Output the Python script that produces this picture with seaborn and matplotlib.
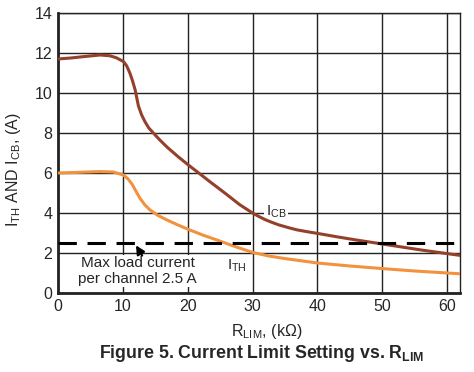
import pandas as pd
import matplotlib
matplotlib.use('Agg')
import matplotlib.pyplot as plt
import seaborn as sns

# values
r_cb = [0, 2, 4, 6.5, 8, 9, 10.1, 10.6, 11.1, 11.5, 11.9, 12.4, 12.9, 13.4, 14, 14.7, 15.7, 16.8,
        18.5, 20.1, 21.9, 23.2, 24.5, 26, 28, 30, 31, 32, 33, 34, 35.5, 36.8, 38.5, 40, 43, 46, 50,
        53, 56, 60, 62]
i_cb = [11.7, 11.75, 11.82, 11.9, 11.86, 11.76, 11.57, 11.35, 10.98, 10.6, 10.15, 9.35, 8.9, 8.57, 8.25,
        8.0, 7.65, 7.3, 6.82, 6.4, 5.95, 5.62, 5.3, 4.93, 4.42, 4.0, 3.82, 3.66, 3.53, 3.41, 3.27, 3.16,
        3.06, 2.98, 2.81, 2.65, 2.45, 2.3, 2.15, 1.97, 1.88]

r_th = [0, 3, 6.5, 8.5, 10.1, 10.8, 11.4, 12, 12.65, 13.4, 14.2, 15.4, 16.8, 18.5, 20.1, 22.3, 24.5,
        27.5, 30, 32.5, 35, 40, 45, 50, 55, 60, 62]
i_th = [6.0, 6.03, 6.07, 6.05, 5.9, 5.7, 5.45, 5.1, 4.73, 4.4, 4.15, 3.88, 3.65, 3.4, 3.18, 2.9, 2.65,
        2.3, 2.03, 1.85, 1.72, 1.5, 1.35, 1.22, 1.1, 1.0, 0.96]

max_load = 2.5
x_ticks = [0, 10, 20, 30, 40, 50, 60]
y_ticks = [0, 2, 4, 6, 8, 10, 12, 14]

df = pd.concat([
    pd.DataFrame({'R': r_cb, 'I': i_cb, 'curve': 'ICB'}),
    pd.DataFrame({'R': r_th, 'I': i_th, 'curve': 'ITH'}),
])

sns.set_style('white')
plt.rcParams['font.family'] = ['Liberation Sans', 'DejaVu Sans']
plt.rcParams['mathtext.fontset'] = 'custom'
plt.rcParams['mathtext.rm'] = 'Liberation Sans'
plt.rcParams['mathtext.bf'] = 'Liberation Sans:bold'

fig = plt.figure(figsize=(4.74, 3.72), dpi=100)
ax = fig.add_axes([0.1224, 0.2124, 0.8481, 0.7527])
ax.set_axisbelow(True)

sns.lineplot(data=df, x='R', y='I', hue='curve',
             palette={'ICB': '#94402A', 'ITH': '#F2923E'},
             linewidth=2.2, legend=False, ax=ax, zorder=3)
ax.axhline(max_load, color='black', lw=2.2, dashes=(6, 3.5), zorder=4)

ax.set_xlim(0, 62)
ax.set_ylim(0, 14)
ax.set_xticks(x_ticks)
ax.set_yticks(y_ticks)
ax.grid(True, color='#222222', lw=1)
ax.tick_params(length=0, labelsize=11.5, pad=4)
for s in ax.spines.values():
    s.set_color('#222222')
    s.set_linewidth(1)
ax.spines['left'].set_linewidth(2)
ax.spines['bottom'].set_linewidth(2)

ax.set_xlabel(r'R$_{\mathrm{LIM}}$, (k$\Omega$)', fontsize=11.5)
ax.set_ylabel(r'I$_{\mathrm{TH}}$ AND I$_{\mathrm{CB}}$, (A)', fontsize=11.5)
ax.xaxis.set_label_coords(0.52, -0.105)
ax.yaxis.set_label_coords(-0.088, 0.44)

box = dict(facecolor='white', edgecolor='none', pad=1)
ax.text(33.6, 4.07, r'I$_{\mathrm{CB}}$', fontsize=11, ha='center', va='center', bbox=box, zorder=2)
ax.text(27.6, 1.38, r'I$_{\mathrm{TH}}$', fontsize=11, ha='center', va='center', bbox=box, zorder=2)
ax.text(12.3, 1.1, 'Max load current\nper channel 2.5 A', fontsize=11, ha='center', va='center',
        linespacing=1.2, bbox=box, zorder=2)
ax.annotate('', xy=(11.8, 2.5), xytext=(13.2, 1.75),
            arrowprops=dict(arrowstyle='-|>', color='black', lw=1.5, mutation_scale=13), zorder=6)

fig.text(0.553, 0.05, r'Figure 5. Current Limit Setting vs. R$_{\mathbf{LIM}}$',
         fontsize=12.8, fontweight='bold', ha='center', va='center')

fig.savefig('out.png', dpi=100)
